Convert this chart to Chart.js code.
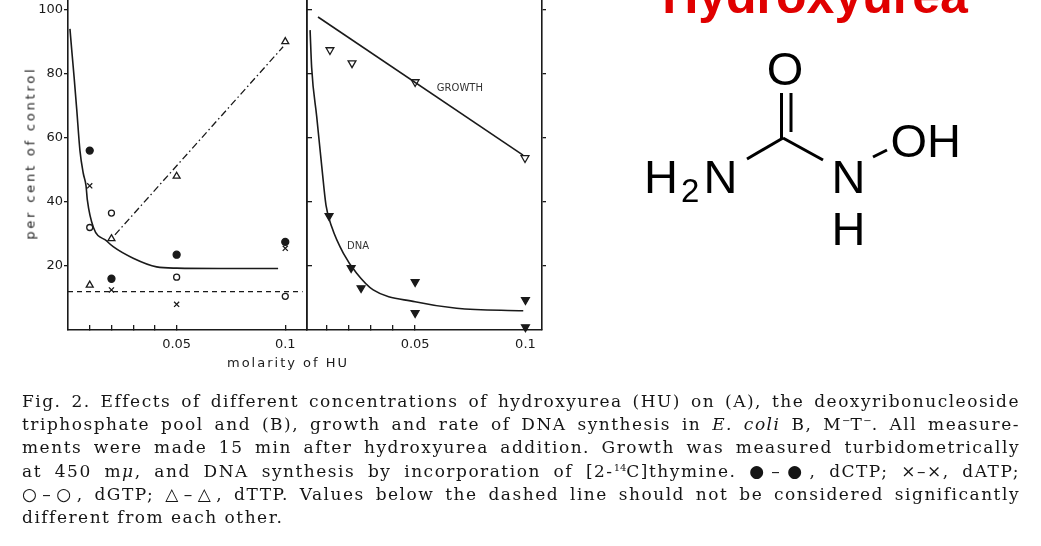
<!DOCTYPE html>
<html>
<head>
<meta charset="utf-8">
<script src="https://cdn.jsdelivr.net/npm/chart.js@4.4.1/dist/chart.umd.min.js"></script>
<style>
  html, body { margin: 0; padding: 0; background: #fff; }
  body { width: 1041px; height: 546px; position: relative; overflow: hidden; }
  canvas { position: absolute; top: 0; }
  #panelA { left: 0; }
  #panelB { left: 300px; }
  .axis-title { position: absolute; font-family: "DejaVu Sans"; font-size: 13px; color: #1c1c1c; white-space: nowrap; }
  #yTitle { left: 30px; top: 153px; transform: translate(-50%, -50%) rotate(-90deg); letter-spacing: 2.8px; }
  #xTitle { left: 288px; top: 362px; transform: translate(-50%, -50%); letter-spacing: 2px; }
  #caption { position: absolute; left: 22px; top: 389.5px; width: 998px; font-family: "DejaVu Serif"; font-size: 17px; line-height: 23.4px; color: #151515; letter-spacing: 1.5px; }
  #caption div { text-align: justify; text-align-last: justify; text-justify: inter-word; height: 23.4px; }
  #caption div.last { text-align-last: left; }
  #caption sup { font-size: 10px; line-height: 0; vertical-align: 6px; letter-spacing: 0; }
  svg { position: absolute; left: 0; top: 0; }
</style>
</head>
<body>
<canvas id="panelA" width="310" height="360"></canvas>
<canvas id="panelB" width="250" height="360"></canvas>
<div class="axis-title" id="yTitle">per cent of control</div>
<div class="axis-title" id="xTitle">molarity of HU</div>

<svg width="1041" height="546" viewBox="0 0 1041 546">
  <text x="815" y="13" text-anchor="middle" font-family="Liberation Sans" font-weight="bold" font-size="50" fill="#e00000">Hydroxyurea</text>
  <g font-family="Liberation Sans" font-size="47" fill="#000">
    <text x="785" y="85" text-anchor="middle">O</text>
    <text x="644" y="193">H</text>
    <text x="681" y="202" font-size="33">2</text>
    <text x="703.5" y="193">N</text>
    <text x="831.5" y="193">N</text>
    <text x="831.5" y="245">H</text>
    <text x="890.5" y="157">OH</text>
  </g>
  <g stroke="#000" stroke-width="3">
    <line x1="781.5" y1="93" x2="781.5" y2="138"/>
    <line x1="791" y1="93" x2="791" y2="132"/>
    <line x1="783" y1="138" x2="747" y2="159"/>
    <line x1="783" y1="138" x2="823" y2="160"/>
    <line x1="873" y1="157" x2="887" y2="150"/>
  </g>
</svg>

<div id="caption">
  <div>Fig. 2. Effects of different concentrations of hydroxyurea (HU) on (A), the deoxyribonucleoside</div>
  <div>triphosphate pool and (B), growth and rate of DNA synthesis in <i>E. coli</i> B, M<sup>−</sup>T<sup>−</sup>. All measure-</div>
  <div>ments were made 15 min after hydroxyurea addition. Growth was measured turbidometrically</div>
  <div>at 450 m<i>μ</i>, and DNA synthesis by incorporation of [2-<sup>14</sup>C]thymine. ●–●, dCTP; ×–×, dATP;</div>
  <div>○–○, dGTP; △–△, dTTP. Values below the dashed line should not be considered significantly</div>
  <div class="last">different from each other.</div>
</div>

<script>
// =========================================================
// DATA: axis ticks (shared by both panels)
// =========================================================
const xTickValues = [0.01, 0.02, 0.03, 0.04, 0.05, 0.1];
const xTickLabels = ['', '', '', '', '0.05', '0.1'];
const yTickValues = [20, 40, 60, 80, 100];
const yTickLabels = ['20', '40', '60', '80', '100'];

// --------------------------------------------------------
// Panel A: deoxyribonucleoside triphosphate pool
// --------------------------------------------------------
const concA = [0.01, 0.02, 0.05, 0.1];
const dCTP = [56, 16, 23.5, 27.5];
const dATP = [45, 12.5, 8, 25.5];
const dGTP = [32, 36.5, 16.5, 10.5];
const dTTP = [14, 28.5, 48, 90];

// hand-drawn fit curve through dCTP/dATP/dGTP
const poolCurveX = [0.0009, 0.0017, 0.0028, 0.004, 0.0055, 0.007, 0.0083, 0.0089, 0.0117, 0.0178, 0.0208, 0.03, 0.0408, 0.05, 0.07, 0.0967];
const poolCurveY = [94, 87.5, 79, 69, 56, 49, 45, 40.6, 32, 27.8, 26, 22.4, 19.7, 19.3, 19.2, 19.2];
// dash-dot line for dTTP
const dTTPLineX = [0.0216, 0.099];
const dTTPLineY = [29.7, 88.4];
// dashed significance line
const cutoffX = [0, 0.108];
const cutoffY = [12, 12];

// --------------------------------------------------------
// Panel B: growth and DNA synthesis
// --------------------------------------------------------
const growthX = [0.0114, 0.0214, 0.05, 0.0998];
const growthY = [87.4, 83.3, 77.4, 53.7];
const growthLineX = [0.006, 0.0989];
const growthLineY = [97.7, 54.6];
const dnaX = [0.011, 0.021, 0.0255, 0.05, 0.05, 0.1, 0.1];
const dnaY = [35.6, 19.4, 13.1, 15, 5.3, 9.4, 0.9];
const dnaCurveX = [0.0024, 0.0031, 0.0054, 0.0077, 0.0096, 0.0122, 0.0175, 0.0235, 0.031, 0.05, 0.0688, 0.099];
const dnaCurveY = [93.6, 82, 66.6, 51, 39, 32.2, 23.9, 17.7, 12.5, 8.8, 6.8, 6];
// curve names written next to the lines
const curveNotes = [
    { text: 'GROWTH', x: 0.0703, y: 75.5 },
    { text: 'DNA', x: 0.0241, y: 26 }
];

const INK = '#1a1a1a';
const pts = (xs, ys) => xs.map((x, i) => ({ x: x, y: ys[i] }));

// =========================================================
// HELPERS
// =========================================================

// fixed axis box so both panels line up with the scan
function fixBox(size) {
    return function(scale) {
        if (scale.isHorizontal()) scale.height = size; else scale.width = size;
        scale.paddingLeft = scale.paddingRight = scale.paddingTop = scale.paddingBottom = 0;
    };
}

function useTicks(values) {
    return function(scale) {
        scale.ticks = values.map(v => ({ value: v }));
    };
}

function xAxis(min, max) {
    return {
        type: 'linear', position: 'bottom', min: min, max: max,
        afterBuildTicks: useTicks(xTickValues),
        afterFit: fixBox(30),
        border: { display: true, color: INK, width: 1.6 },
        grid: { display: true, drawOnChartArea: false, tickLength: -5, color: INK, lineWidth: 1.3 },
        ticks: {
            padding: 12, color: INK, autoSkip: false, maxRotation: 0,
            font: { family: 'DejaVu Sans', size: 13 },
            callback: (v, i) => xTickLabels[i]
        }
    };
}

function frameAxis(position, width, tickLength) {
    return {
        type: 'linear', position: position, min: 0, max: 103,
        afterBuildTicks: useTicks(yTickValues),
        afterFit: fixBox(width),
        border: { display: true, color: INK, width: 1.6 },
        grid: { display: tickLength !== 0, drawOnChartArea: false, tickLength: tickLength, color: INK, lineWidth: 1.3 },
        ticks: { display: false }
    };
}

function markers(label, xs, ys, style) {
    return Object.assign({
        label: label,
        data: pts(xs, ys),
        showLine: false,
        clip: false,
        borderColor: INK,
        pointBorderColor: INK,
        pointBorderWidth: 1.3
    }, style);
}

function curve(label, xs, ys, style) {
    return Object.assign({
        label: label,
        data: pts(xs, ys),
        showLine: true,
        pointRadius: 0,
        borderColor: INK,
        borderWidth: 1.6,
        cubicInterpolationMode: 'monotone'
    }, style);
}

const notePlugin = {
    id: 'curveNotes',
    afterDatasetsDraw(chart, args, opts) {
        if (!opts.items) return;
        const ctx = chart.ctx;
        ctx.save();
        ctx.font = '10px "DejaVu Sans"';
        ctx.fillStyle = '#333';
        ctx.textAlign = 'center';
        ctx.textBaseline = 'middle';
        opts.items.forEach(n => {
            ctx.fillText(n.text, chart.scales.x.getPixelForValue(n.x), chart.scales.y.getPixelForValue(n.y));
        });
        ctx.restore();
    }
};

const baseOptions = {
    responsive: false,
    animation: false,
    events: [],
    layout: { autoPadding: false, padding: 0 }
};

// =========================================================
// PANEL A
// =========================================================
new Chart(document.getElementById('panelA'), {
    type: 'scatter',
    data: {
        datasets: [
            curve('fit', poolCurveX, poolCurveY),
            curve('dTTP line', dTTPLineX, dTTPLineY, { borderWidth: 1.3, borderDash: [7, 3, 1.5, 3], cubicInterpolationMode: 'default' }),
            curve('cutoff', cutoffX, cutoffY, { borderWidth: 1.3, borderDash: [5, 4], cubicInterpolationMode: 'default' }),
            markers('dCTP', concA, dCTP, { pointStyle: 'circle', pointRadius: 3.5, pointBackgroundColor: INK }),
            markers('dATP', concA, dATP, { pointStyle: 'crossRot', pointRadius: 3.6 }),
            markers('dGTP', concA, dGTP, { pointStyle: 'circle', pointRadius: 3, pointBackgroundColor: '#fff' }),
            markers('dTTP', concA, dTTP, { pointStyle: 'triangle', pointRadius: 4, pointBackgroundColor: '#fff' })
        ]
    },
    options: Object.assign({}, baseOptions, {
        plugins: { legend: { display: false }, tooltip: { enabled: false } },
        scales: {
            x: xAxis(0, 0.11),
            y: {
                type: 'linear', position: 'left', min: 0, max: 103,
                afterBuildTicks: useTicks(yTickValues),
                afterFit: fixBox(68),
                border: { display: true, color: INK, width: 1.6 },
                grid: { display: true, drawOnChartArea: false, tickLength: 4, color: INK, lineWidth: 1.3 },
                ticks: {
                    padding: 1, color: INK,
                    font: { family: 'DejaVu Sans', size: 13 },
                    callback: (v, i) => yTickLabels[i]
                }
            },
            y2: frameAxis('right', 3, 0)
        }
    })
});

// =========================================================
// PANEL B
// =========================================================
new Chart(document.getElementById('panelB'), {
    type: 'scatter',
    data: {
        datasets: [
            curve('growth line', growthLineX, growthLineY, { cubicInterpolationMode: 'default' }),
            curve('DNA curve', dnaCurveX, dnaCurveY),
            markers('GROWTH', growthX, growthY, { pointStyle: 'triangle', rotation: 180, pointRadius: 4.5, pointBackgroundColor: '#fff' }),
            markers('DNA', dnaX, dnaY, { pointStyle: 'triangle', rotation: 180, pointRadius: 4.5, pointBackgroundColor: INK })
        ]
    },
    plugins: [notePlugin],
    options: Object.assign({}, baseOptions, {
        plugins: {
            legend: { display: false },
            tooltip: { enabled: false },
            curveNotes: { items: curveNotes }
        },
        scales: {
            x: xAxis(0.001, 0.1075),
            y: frameAxis('left', 7, -5),
            y2: frameAxis('right', 8, 4)
        }
    })
});
</script>
</body>
</html>
